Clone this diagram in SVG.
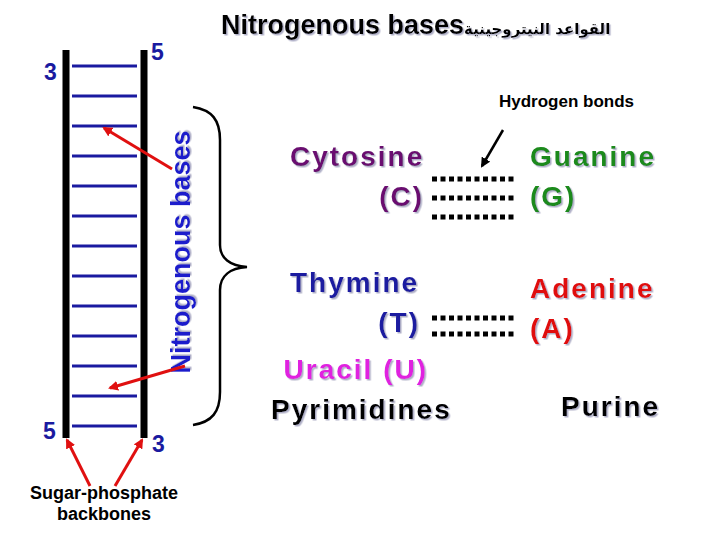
<svg xmlns="http://www.w3.org/2000/svg" width="720" height="540" viewBox="0 0 720 540">
<defs>
<style>
text{font-family:"Liberation Sans",Arial,sans-serif;font-weight:bold}
.big{font-size:28px;letter-spacing:2px;filter:url(#sh)}
.num{font-size:23px;fill:#1a1aa0}
.rung{stroke:#1a1aa0;stroke-width:3}
.rail{stroke:#000;stroke-width:7}
.red{stroke:#e01010;stroke-width:3;marker-end:url(#ra)}
.dot{stroke:#000;stroke-width:5;stroke-dasharray:5 3.5}
</style>
<filter id="sh" x="-5%" y="-20%" width="115%" height="150%"><feDropShadow dx="1.5" dy="1.5" stdDeviation="0.5" flood-color="#b0b0c8"/></filter>
<marker id="ra" markerWidth="10" markerHeight="10" refX="8" refY="5" orient="auto" markerUnits="userSpaceOnUse"><path d="M0,0L10,5L0,10z" fill="#e01010"/></marker>
<marker id="ka" markerWidth="10" markerHeight="10" refX="8" refY="5" orient="auto" markerUnits="userSpaceOnUse"><path d="M0,0L10,5L0,10z" fill="#000"/></marker>
</defs>
<rect width="720" height="540" fill="#fff"/>
<g id="title"><text x="221" y="34" font-size="27" filter="url(#sh)">Nitrogenous bases<tspan font-size="15" font-family="'DejaVu Sans',sans-serif">القواعد النيتروجينية</tspan></text></g>
<g id="ladder">
<line class="rail" x1="66" y1="50" x2="66" y2="438"/>
<line class="rail" x1="144" y1="50" x2="144" y2="438"/>
<g class="rung">
<line x1="72" y1="66" x2="137" y2="66"/><line x1="72" y1="96" x2="137" y2="96"/><line x1="72" y1="126" x2="137" y2="126"/><line x1="72" y1="156" x2="137" y2="156"/><line x1="72" y1="186" x2="137" y2="186"/><line x1="72" y1="216" x2="137" y2="216"/><line x1="72" y1="246" x2="137" y2="246"/><line x1="72" y1="276" x2="137" y2="276"/><line x1="72" y1="306" x2="137" y2="306"/><line x1="72" y1="336" x2="137" y2="336"/><line x1="72" y1="366" x2="137" y2="366"/><line x1="72" y1="396" x2="137" y2="396"/><line x1="72" y1="426" x2="137" y2="426"/>
</g>
<text class="num" x="44" y="80">3</text>
<text class="num" x="151" y="60">5</text>
<text class="num" x="43" y="439">5</text>
<text class="num" x="152" y="452">3</text>
</g>
<g id="nb-label"><text transform="translate(190,252) rotate(-90)" text-anchor="middle" font-size="27" fill="#1a1acc" filter="url(#sh)">Nitrogenous bases</text></g>
<g id="brace"><path d="M193,107 C212,110 220,120 220,140 L220,245 C220,258 230,266 247,267 C230,268 220,276 220,290 L220,392 C220,412 212,422 193,425" fill="none" stroke="#000" stroke-width="2.5"/></g>
<g id="backbone-label"><text x="104" y="499" font-size="18" text-anchor="middle">Sugar-phosphate</text><text x="104" y="520" font-size="18" text-anchor="middle">backbones</text></g>
<g id="connectors">
<line class="red" x1="172" y1="169" x2="104" y2="128"/>
<line class="red" x1="185" y1="366" x2="110" y2="388"/>
<line class="red" x1="90" y1="486" x2="67" y2="440"/>
<line class="red" x1="115" y1="486" x2="142" y2="440"/>
<line x1="503" y1="130" x2="482" y2="166" stroke="#000" stroke-width="2.5" marker-end="url(#ka)"/>
<line class="dot" x1="432" y1="179" x2="516" y2="179"/>
<line class="dot" x1="432" y1="198" x2="516" y2="198"/>
<line class="dot" x1="432" y1="217" x2="516" y2="217"/>
<line class="dot" x1="432" y1="318" x2="516" y2="318"/>
<line class="dot" x1="432" y1="334" x2="516" y2="334"/>
</g>
<g id="hbonds"><text x="499" y="107" font-size="17">Hydrogen bonds</text></g>
<g id="cytosine"><text class="big" x="290" y="166" fill="#6a1070">Cytosine</text><text class="big" x="424" y="206" text-anchor="end" fill="#6a1070">(C)</text></g>
<g id="guanine"><text class="big" x="530" y="166" fill="#1a8a1a">Guanine</text><text class="big" x="530" y="206" fill="#1a8a1a">(G)</text></g>
<g id="thymine"><text class="big" x="290" y="292" fill="#1a1aa0">Thymine</text><text class="big" x="420" y="332" text-anchor="end" fill="#1a1aa0">(T)</text></g>
<g id="adenine"><text class="big" x="530" y="298" fill="#e01010">Adenine</text><text class="big" x="530" y="338" fill="#e01010">(A)</text></g>
<g id="uracil"><text class="big" x="428" y="379" text-anchor="end" fill="#e020e0">Uracil (U)</text></g>
<g id="pyr"><text class="big" x="271" y="419" fill="#000">Pyrimidines</text></g>
<g id="pur"><text class="big" x="561" y="416" fill="#000">Purine</text></g>
</svg>
